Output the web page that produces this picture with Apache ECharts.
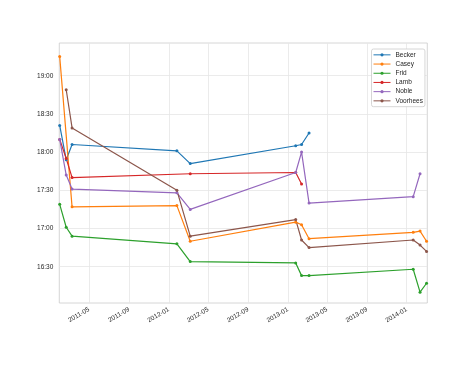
<!DOCTYPE html>
<html>
<head>
<meta charset="utf-8">
<script src="https://cdn.jsdelivr.net/npm/echarts@6/dist/echarts.min.js"></script>
<style>html,body{margin:0;padding:0;background:#fff}#c{width:474px;height:379px}</style>
</head>
<body>
<div id="c"></div>
<script>
const dates = ['2011-01-31','2011-02-20','2011-03-10','2012-01-26','2012-03-07','2013-01-25','2013-02-12','2013-03-07','2014-01-21','2014-02-11','2014-03-03'];
const names = ['Becker','Casey','Frid','Lamb','Noble','Voorhees'];
const becker   = ['18:21','17:54','18:06','18:01','17:51','18:05','18:06','18:15',null,null,null];
const casey    = ['19:15',null,'17:17','17:18','16:50','17:05','17:03','16:52','16:57','16:58','16:50'];
const frid     = ['17:19','17:01','16:54','16:48','16:34','16:33','16:23','16:23','16:28','16:10','16:17'];
const lamb     = ['18:10','17:55','17:40',null,'17:43','17:44','17:35',null,null,null,null];
const noble    = ['18:10','17:42','17:31','17:28','17:15','17:44','18:00','17:20','17:25','17:43',null];
const voorhees = [null,'18:49','18:19','17:30','16:54','17:07','16:51','16:45','16:51','16:47','16:42'];
const xTicks = ['2011-05-01','2011-09-01','2012-01-01','2012-05-01','2012-09-01','2013-01-01','2013-05-01','2013-09-01','2014-01-01'];
const yTicks = ['16:30','17:00','17:30','18:00','18:30','19:00'];
const xRange = ['2011-01-29T18:00:00Z','2014-03-05T07:00:00Z'];
const yRange = ['16:01.5','19:25.7'];

const colors = ['#1f77b4','#ff7f0e','#2ca02c','#d62728','#9467bd','#8c564b'];
const toMin = s => { if (s == null) return null; const [h, m] = s.split(':'); return +h * 60 + parseFloat(m); };
const toMs = s => Date.parse(s.length === 10 ? s + 'T00:00:00Z' : s);
const pad = n => String(n).padStart(2, '0');
const seriesVals = [becker, casey, frid, lamb, noble, voorhees];
const FONT = 'Liberation Sans';

const chart = echarts.init(document.getElementById('c'), null, {renderer: 'canvas'});
chart.setOption({
  animation: false,
  backgroundColor: '#fff',
  color: colors,
  textStyle: {fontFamily: FONT},
  grid: {left: 59.3, right: 46.7, top: 43, bottom: 76, show: true, borderColor: '#cccccc', borderWidth: 0.8, containLabel: false},
  legend: {
    orient: 'vertical', left: 371.5, top: 49,
    data: names,
    itemWidth: 17, itemHeight: 4, itemGap: 1.5,
    textStyle: {fontSize: 6.5, lineHeight: 7.7, color: '#262626', fontFamily: FONT},
    lineStyle: {width: 1},
    borderColor: '#cccccc', borderWidth: 0.8, borderRadius: 2, padding: [2, 2, 2, 1.5],
    backgroundColor: '#fff'
  },
  xAxis: {
    type: 'value',
    min: toMs(xRange[0]), max: toMs(xRange[1]),
    axisLine: {show: false},
    axisTick: {show: false, customValues: xTicks.map(toMs)},
    splitLine: {show: true, lineStyle: {color: '#e6e6e6', width: 0.8}},
    axisLabel: {
      customValues: xTicks.map(toMs), rotate: 30, margin: 6, fontSize: 6.5, color: '#262626', fontFamily: FONT,
      hideOverlap: false,
      formatter: v => { const d = new Date(v); return d.getUTCFullYear() + '-' + pad(d.getUTCMonth() + 1); }
    }
  },
  yAxis: {
    type: 'value',
    min: toMin(yRange[0]), max: toMin(yRange[1]),
    axisLine: {show: false},
    axisTick: {show: false, customValues: yTicks.map(toMin)},
    splitLine: {show: true, lineStyle: {color: '#e6e6e6', width: 0.8}},
    axisLabel: {
      customValues: yTicks.map(toMin), margin: 6, fontSize: 6.5, color: '#262626', fontFamily: FONT,
      formatter: v => pad(Math.floor(v / 60)) + ':' + pad(Math.round(v % 60))
    }
  },
  series: names.map((n, i) => ({
    name: n, type: 'line',
    data: dates.map((d, j) => [toMs(d), toMin(seriesVals[i][j])]),
    connectNulls: true,
    symbol: 'circle', symbolSize: 3, showSymbol: true,
    lineStyle: {width: 1.2},
    itemStyle: {color: colors[i]},
    clip: true
  }))
});
</script>
</body>
</html>
